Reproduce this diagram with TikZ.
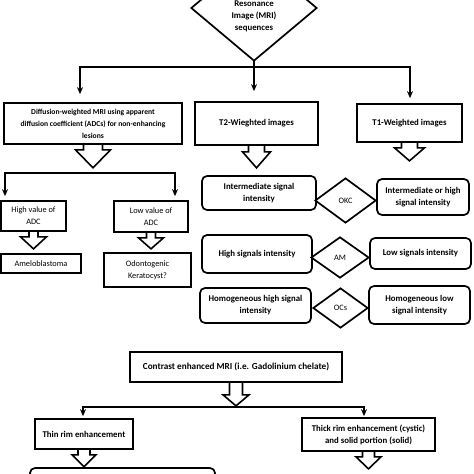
\documentclass[tikz,border=0pt]{standalone}
\usepackage{fontspec}
\setmainfont{Carlito}
\usepackage{tikz}
\usetikzlibrary{calc,shapes.geometric,arrows.meta}
\newcommand{\txtsize}{\fontsize{8.8}{12}\selectfont}
\newcommand{\smallsize}{\fontsize{7.6}{12}\selectfont}
\newcommand{\plainsize}{\fontsize{8.3}{12}\selectfont}
\tikzset{
	box/.style={draw,line width=1.7pt,align=center,inner sep=1pt,font=\txtsize\bfseries},
	rbox/.style={box,rounded corners=5pt},
	plainbox/.style={box,font=\plainsize},
	dia/.style={draw,diamond,line width=1.7pt,inner sep=0pt,align=center,font=\plainsize},
	conn/.style={line width=1.5pt,line cap=rect},
	arr/.style={line width=1.5pt,-{Stealth[length=7pt,width=6pt]}},
	blk/.style={line width=1.6pt,line join=miter}
}
\newcommand{\hollowarr}[5]{\draw[blk] ($(#1.south)+(-#2,0)$) -- ($(#1.south)+(-#2,#4)$) -- ($(#1.south)+(-#3,#4)$) -- ($(#1.south)+(0,#4+#5)$) -- ($(#1.south)+(#3,#4)$) -- ($(#1.south)+(#2,#4)$) -- ($(#1.south)+(#2,0)$);}

\begin{document}
\begin{tikzpicture}[x=1pt,y=-1pt]

	\path[use as bounding box,clip] (0,0) rectangle (474,474);

	\node[dia,minimum width=126pt,minimum height=106pt,font=\txtsize\bfseries] (mri) at (254,8) {\rule{0pt}{10pt}\\Resonance\\Image (MRI)\\sequences};

	\node[box,minimum width=178pt,minimum height=41pt,font=\smallsize\bfseries] (dwi) at (93,123.5) {Diffusion-weighted MRI using apparent\\diffusion coefficient (ADCs) for non-enhancing\\lesions};
	\node[box,minimum width=123pt,minimum height=43pt] (ttwo) at (256.5,123.5) {T2-Wieghted images};
	\node[box,minimum width=105pt,minimum height=38pt] (tone) at (409.5,123) {T1-Weighted images};

	\node[plainbox,minimum width=65pt,minimum height=30pt] (highadc) at (33.5,216) {High value of\\ADC};
	\node[plainbox,minimum width=74pt,minimum height=31pt] (lowadc) at (151,216.5) {Low value of\\ADC};
	\node[plainbox,minimum width=80pt,minimum height=19pt] (amelo) at (41,263.5) {Ameloblastoma};
	\node[plainbox,minimum width=87pt,minimum height=34pt] (kerato) at (147.5,270) {Odontogenic\\Keratocyst?};

	\node[rbox,minimum width=114pt,minimum height=34pt] (interm) at (259,193) {Intermediate signal\\intensity};
	\node[dia,minimum width=61pt,minimum height=45pt] (okc) at (345.5,200.5) {OKC};
	\node[rbox,minimum width=92pt,minimum height=36pt] (intermhigh) at (423,197) {Intermediate or high\\signal intensity};

	\node[rbox,minimum width=110pt,minimum height=38pt] (highsig) at (257,254) {High signals intensity};
	\node[dia,minimum width=58pt,minimum height=41pt] (am) at (340,257.5) {AM};
	\node[rbox,minimum width=101pt,minimum height=31pt] (lowsig) at (420.5,253.5) {Low signals intensity};

	\node[rbox,minimum width=111pt,minimum height=35pt] (homhigh) at (255.5,305.5) {Homogeneous high signal\\intensity};
	\node[dia,minimum width=55pt,minimum height=40pt] (ocs) at (340.5,308) {OCs};
	\node[rbox,minimum width=101pt,minimum height=38pt] (homlow) at (419.5,305) {Homogeneous low\\signal intensity};

	\node[box,minimum width=212pt,minimum height=30pt,font=\fontsize{9.2}{12}\selectfont\bfseries] (contrast) at (236,367) {Contrast enhanced MRI (i.e. Gadolinium chelate)};
	\node[box,minimum width=98pt,minimum height=30pt] (thin) at (84,434) {Thin rim enhancement};
	\node[box,minimum width=133pt,minimum height=33pt] (thick) at (368.5,434.5) {Thick rim enhancement (cystic)\\and solid portion (solid)};
	\node[rbox,minimum width=185pt,minimum height=40pt] (thinres) at (122.5,488) {};

	\coordinate (split) at (254,67);
	\coordinate (splitL) at (80,67);
	\coordinate (splitR) at (410,67);
	\draw[conn] (mri.south) -- (split);
	\draw[conn] (splitL) -- (splitR);
	\draw[arr,shorten >=8pt] (splitL) -- (splitL |- dwi.north);
	\draw[arr,shorten >=10pt] (split) -- (split |- ttwo.north);
	\draw[arr,shorten >=5pt] (splitR) -- (splitR |- tone.north);

	\coordinate (adcL) at (5,173);
	\coordinate (adcR) at (175,173);
	\draw[conn] (adcL) -- (adcR);
	\draw[arr,shorten >=4pt] (adcL) -- (adcL |- highadc.north);
	\draw[arr,shorten >=4pt] (adcR) -- (adcR |- lowadc.north);

	\coordinate (rimL) at (83,407);
	\coordinate (rimR) at (364,407);
	\draw[conn] (rimL) -- (rimR);
	\draw[arr,shorten >=2pt] (rimL) -- (rimL |- thin.north);
	\draw[arr,shorten >=1pt] (rimR) -- (rimR |- thick.north);

	\hollowarr{dwi}{9.5}{17.5}{5}{18}
	\hollowarr{ttwo}{8}{14}{6}{16}
	\hollowarr{tone}{8}{15}{5}{13}
	\hollowarr{highadc}{4.5}{13}{5}{12}
	\hollowarr{lowadc}{4.5}{12.5}{5}{11}
	\hollowarr{contrast}{6.5}{13}{12}{11}
	\hollowarr{thin}{6}{12}{5}{12}
	\hollowarr{thick}{6}{12.5}{5}{12}

\end{tikzpicture}
\end{document}
